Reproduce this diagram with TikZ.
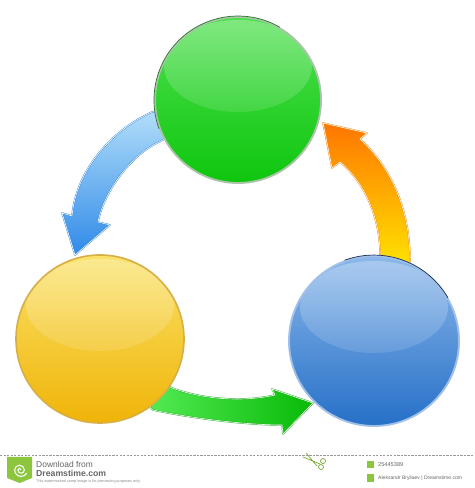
\documentclass[tikz,border=0pt]{standalone}
\usepackage{fontspec}
\setmainfont{Liberation Sans}
\usetikzlibrary{arrows,positioning,shapes,fadings,calc}

\definecolor{ballgreen}{RGB}{14,198,14}
\definecolor{ballgreenlt}{RGB}{80,224,80}
\definecolor{ballyellow}{RGB}{240,180,8}
\definecolor{ballyellowmid}{RGB}{246,205,40}
\definecolor{ballyellowlt}{RGB}{250,226,105}
\definecolor{ballblue}{RGB}{38,112,200}
\definecolor{ballbluemid}{RGB}{66,136,214}
\definecolor{ballbluelt}{RGB}{140,184,234}
\definecolor{ringgreen}{RGB}{170,196,170}
\definecolor{ringyellow}{RGB}{214,176,70}
\definecolor{ringblue}{RGB}{160,192,232}
\definecolor{navy}{RGB}{25,45,85}
\definecolor{darkgreen}{RGB}{40,120,40}
\definecolor{edgeblue}{RGB}{60,140,220}
\definecolor{edgegreen}{RGB}{40,180,40}
\definecolor{edgeorange}{RGB}{240,140,20}
\definecolor{badgegreen}{RGB}{140,198,63}
\tikzfading[name=glossfade, top color=transparent!0, bottom color=transparent!100]

\tikzset{
  ball/.style={circle,inner sep=0pt,minimum size=#1,
    path picture={\fill[white,path fading=glossfade,fill opacity=.28]
      ($(path picture bounding box.center)+(0,34)$) ellipse [x radius=74,y radius=46];}},
  bandarrow/.style={draw=#1,double=white,double distance=0.5pt,line width=0.4pt,line join=round},
  banner/.style={anchor=west,inner sep=0pt,text=black!60},
}

\begin{document}
\begin{tikzpicture}[x=0.03cm,y=0.03cm]
\useasboundingbox (0,0) rectangle (474,488);
\fill[white] (0,0) rectangle (474,488);

% block arrows
\path[bandarrow=edgeblue,top color={rgb,255:red,178;green,222;blue,250},bottom color={rgb,255:red,48;green,138;blue,232}]
  (165,378) -- (152,376) .. controls (112,358) and (76,318) .. (72,272) -- (62,275) -- (75,233)
  -- (110,263) -- (98,266) .. controls (104,296) and (130,332) .. (159,346) -- (170,352) -- cycle;
\path[bandarrow=edgegreen,left color={rgb,255:red,85;green,236;blue,85},right color={rgb,255:red,8;green,186;blue,8}]
  (160,108) -- (172,100) .. controls (205,88) and (245,86) .. (275,93) -- (272,99) -- (313,85)
  -- (283,54) -- (282,63) .. controls (245,63) and (190,70) .. (153,78) -- (143,88) -- cycle;
\path[bandarrow=edgeorange,top color={rgb,255:red,255;green,118;blue,0},bottom color={rgb,255:red,255;green,232;blue,0}]
  (380,220) -- (380,233) .. controls (380,270) and (365,305) .. (340,326) -- (332,320) -- (323,365)
  -- (367,355) -- (360,349) .. controls (390,322) and (410,280) .. (410,228) -- (408,215) -- cycle;

% balls
\node[ball=4.98cm,top color=ballgreenlt,bottom color=ballgreen,draw=ringgreen,line width=1.6pt] (g) at (238,388) {};
\node[ball=5.04cm,top color=ballyellowlt,middle color=ballyellowmid,bottom color=ballyellow,draw=ringyellow,line width=1.4pt] (y) at (100,149) {};
\node[ball=5.1cm,top color=ballbluelt,middle color=ballbluemid,bottom color=ballblue,draw=ringblue,line width=1.6pt] (b) at (374,147) {};
\draw[darkgreen,line width=0.6pt] (g.60) arc[start angle=60,end angle=200,radius=84];
\draw[navy,line width=0.6pt] (b.110) arc[start angle=110,end angle=30,radius=85.5];

% banner
\draw[black!40,dash pattern=on 2pt off 1pt] (0,33) -- (474,33);
\fill[badgegreen] (7,31) -- (32,31) -- (32,10) -- (19.5,5) -- (7,10) -- cycle;
\draw[white,line width=0.9pt] (21.1,18) arc[start angle=0,end angle=180,radius=1.6]
  arc[start angle=180,end angle=360,radius=3.2] arc[start angle=0,end angle=180,radius=4.8]
  arc[start angle=180,end angle=330,radius=6.4];
\node[banner,font=\fontsize{7.2}{8}\selectfont] (dl) at (36,24) {Download from};
\node[banner,font=\bfseries\fontsize{7.4}{9}\selectfont] (ds) at (36,15) {Dreamstime.com};
\node[banner,font=\fontsize{3.2}{4}\selectfont,text=black!45] (wm) at (36,6) {This watermarked comp image is for previewing purposes only.};
\draw[badgegreen!85!black,line width=0.6pt] (303,31) -- (320,24) (306,35) -- (317,22);
\draw[badgegreen!85!black,line width=0.6pt] (321,21) circle[radius=2.5] (323,27) circle[radius=2.5];
\node[fill=badgegreen,minimum size=0.21cm,inner sep=0pt] (idbox) at (370.5,23) {};
\node[fill=badgegreen,minimum size=0.21cm,inner sep=0pt] (aubox) at (370.5,10) {};
\node[banner,font=\fontsize{4.8}{5}\selectfont] (id) at (378,23) {25445389};
\node[banner,font=\fontsize{4.3}{5}\selectfont] (au) at (378,10) {Aleksandr Bryliaev | Dreamstime.com};
\end{tikzpicture}
\end{document}
